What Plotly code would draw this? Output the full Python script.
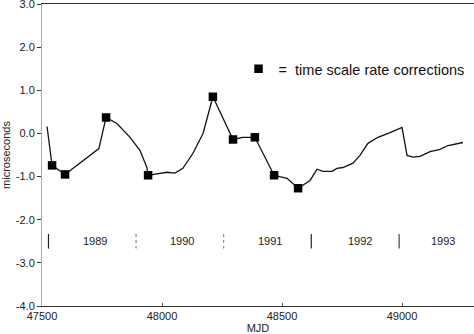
import plotly.graph_objects as go

# Clock offset curve (MJD, microseconds)
mjd = [47521, 47542, 47596, 47658, 47737, 47767, 47812, 47867, 47908, 47937, 47942,
       48021, 48054, 48087, 48129, 48171, 48212, 48296, 48337, 48387, 48467, 48521,
       48567, 48617, 48646, 48671, 48708, 48729, 48754, 48796, 48825, 48858, 48900,
       48950, 49000, 49021, 49046, 49075, 49117, 49158, 49192, 49254]
offset_us = [0.16, -0.74, -0.95, -0.69, -0.35, 0.37, 0.23, -0.09, -0.39, -0.79, -0.97,
             -0.90, -0.92, -0.81, -0.46, 0.0, 0.85, -0.14, -0.09, -0.09, -0.97, -1.04,
             -1.27, -1.09, -0.83, -0.88, -0.88, -0.81, -0.79, -0.69, -0.51, -0.23, -0.09,
             0.02, 0.14, -0.51, -0.55, -0.53, -0.42, -0.37, -0.28, -0.21]

# Time scale rate corrections
corr_mjd = [47542, 47596, 47767, 47942, 48212, 48296, 48387, 48467, 48567]
corr_us = [-0.74, -0.95, 0.37, -0.97, 0.85, -0.14, -0.09, -0.97, -1.27]

# Year labels and boundaries
years = ["1989", "1990", "1991", "1992", "1993"]
year_label_mjd = [47720, 48083, 48450, 48825, 49172]
year_start_mjd = [47527, 47892, 48257, 48622, 48988]
year_sep_style = ["solid", "dot", "dot", "solid", "solid"]
year_sep_color = ["#222", "#888", "#888", "#222", "#444"]
year_row_y = -2.5

ytick_vals = [3, 2, 1, 0, -1, -2, -3, -4]
ytick_text = ["3.0", "2.0", "1.0", "0.0", "-1.0", "-2.0", "-3.0", "-4.0"]
xtick_vals = [47500, 48000, 48500, 49000]
xtick_text = ["47500", "48000", "48500", "49000"]

FONT = "Arial, Liberation Sans, Helvetica, sans-serif"

fig = go.Figure()
fig.add_trace(go.Scatter(x=mjd, y=offset_us, mode="lines",
                         line=dict(color="#111", width=1.3), showlegend=False,
                         hoverinfo="skip"))
fig.add_trace(go.Scatter(x=corr_mjd, y=corr_us, mode="markers",
                         marker=dict(symbol="square", size=8.5, color="#000"),
                         name="=  time scale rate corrections", showlegend=True))

annotations = []
for yr, xm in zip(years, year_label_mjd):
    annotations.append(dict(x=xm, y=year_row_y, text=yr, showarrow=False,
                            font=dict(family=FONT, size=11, color="#222"),
                            xref="x", yref="y"))
shapes = []
for xs, ds, cs in zip(year_start_mjd, year_sep_style, year_sep_color):
    shapes.append(dict(type="line", x0=xs, x1=xs, y0=year_row_y + 0.17,
                       y1=year_row_y - 0.17, xref="x", yref="y",
                       line=dict(color=cs, width=1.2, dash=ds)))

fig.update_layout(
    width=474, height=334,
    margin=dict(l=42, r=0, t=4, b=28, autoexpand=False),
    paper_bgcolor="white", plot_bgcolor="white",
    font=dict(family=FONT, size=11, color="#222"),
    annotations=annotations, shapes=shapes,
    legend=dict(x=0.455, y=0.785, xanchor="left", yanchor="middle",
                bgcolor="rgba(0,0,0,0)", font=dict(family=FONT, size=14.5, color="#111"),
                itemwidth=30),
    xaxis=dict(range=[47500, 49300], tickvals=xtick_vals, ticktext=xtick_text,
               showgrid=False, zeroline=False, showline=True, mirror=True,
               linecolor="#333", linewidth=1, ticks="inside", ticklen=3,
               tickcolor="#555", tickfont=dict(size=11, color="#222"),
               title=dict(text="MJD", font=dict(size=11, color="#222"), standoff=0)),
    yaxis=dict(range=[-4, 3], tickvals=ytick_vals, ticktext=ytick_text,
               showgrid=False, zeroline=False, showline=True, linecolor="#aaa",
               linewidth=1, ticks="outside", ticklen=4, tickcolor="#333",
               tickfont=dict(size=11, color="#222"), ticklabeloverflow="allow",
               title=dict(text="microseconds", font=dict(size=11, color="#222"),
                          standoff=4)),
)

fig.write_html("out.html")
